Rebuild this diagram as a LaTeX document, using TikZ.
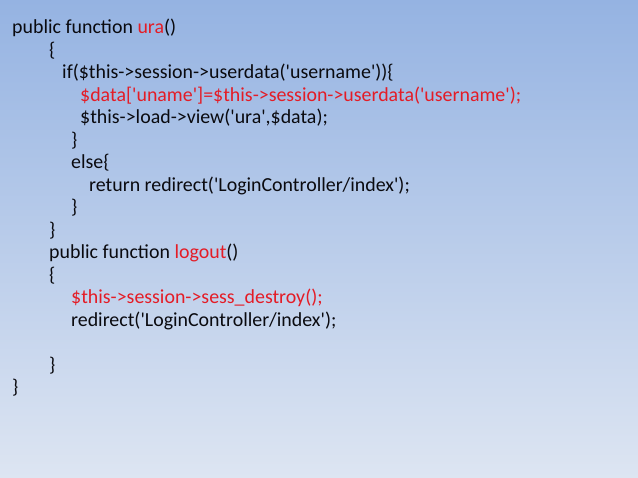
\documentclass[tikz,border=0pt]{standalone}
\usepackage{fontspec}
\newfontfamily\codefont{Carlito}
\definecolor{bgtop}{RGB}{149,179,226}
\definecolor{bgbot}{RGB}{221,229,242}
\definecolor{codered}{RGB}{228,28,38}
\definecolor{codeblk}{RGB}{10,10,15}
\newcommand{\rd}[1]{\textcolor{codered}{#1}}
\begin{document}
\begin{tikzpicture}[x=1pt,y=-1pt,
  codeline/.style={anchor=base west,inner sep=0pt,text=codeblk,font=\codefont\fontsize{19.9}{22}\selectfont}]
\useasboundingbox (0,0) rectangle (638,478);
\shade[top color=bgtop,bottom color=bgbot] (0,0) rectangle (638,478);
\node[codeline] (l1) at (12,34) {public function \rd{ura}()};
\node[codeline] (l2) at (49,56.5) {\{};
\node[codeline] (l3) at (62,79) {if(\$this->session->userdata('username'))\{};
\node[codeline] (l4) at (80,101.5) {\rd{\$data['uname']=\$this->session->userdata('username');}};
\node[codeline] (l5) at (80,124) {\$this->load->view('ura',\$data);};
\node[codeline] (l6) at (71,146.5) {\}};
\node[codeline] (l7) at (71,169) {else\{};
\node[codeline] (l8) at (89,191.5) {return redirect('LoginController/index');};
\node[codeline] (l9) at (71,214) {\}};
\node[codeline] (l10) at (49,236.5) {\}};
\node[codeline] (l11) at (49,259) {public function \rd{logout}()};
\node[codeline] (l12) at (49,281.5) {\{};
\node[codeline] (l13) at (71,304) {\rd{\$this->session->sess\_destroy();}};
\node[codeline] (l14) at (71,326.5) {redirect('LoginController/index');};
\node[codeline] (l16) at (49,371.5) {\}};
\node[codeline] (l17) at (12,394) {\}};
\end{tikzpicture}
\end{document}
